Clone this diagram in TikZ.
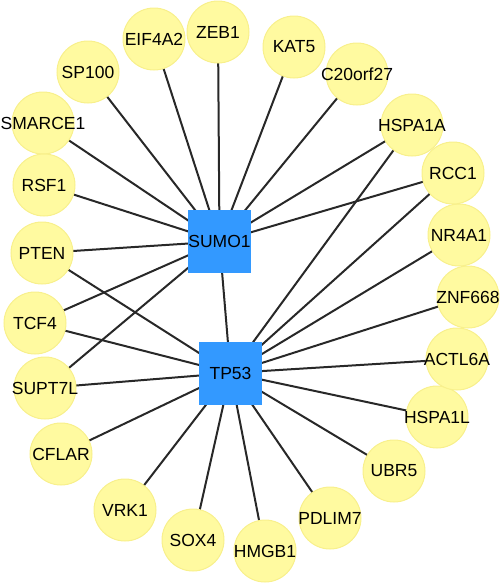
\documentclass[tikz,border=0pt]{standalone}
\usepackage{fontspec}
\setmainfont{Liberation Sans}
\usetikzlibrary{backgrounds}
\definecolor{nodeyellow}{RGB}{255,250,160}
\definecolor{edgeyellow}{RGB}{248,240,140}
\definecolor{hubblue}{RGB}{51,153,255}
\definecolor{linkgray}{RGB}{40,40,40}
\newcommand\gtxt[1]{\makebox[0pt][c]{#1}}
\begin{document}
\begin{tikzpicture}[x=1pt,y=-1pt,
  gene/.style={circle,fill=nodeyellow,draw=edgeyellow,line width=1pt,minimum size=62pt,inner sep=0pt,font=\fontsize{17.5}{17.5}\selectfont},
  hub/.style={rectangle,fill=hubblue,minimum size=63pt,inner sep=0pt,font=\fontsize{17.5}{17.5}\selectfont},
  link/.style={draw=linkgray,line width=2pt}]
\useasboundingbox (0,0) rectangle (500,584);
% hubs
\node[hub] (sumo) at (219.5,241.5) {\gtxt{SUMO1}};
\node[hub] (tp) at (230.5,373) {\gtxt{TP53}};
% genes
\node[gene] (eif) at (154,39) {\gtxt{EIF4A2}};
\node[gene] (zeb) at (218,32) {\gtxt{ZEB1}};
\node[gene] (sp) at (88,72) {\gtxt{SP100}};
\node[gene] (smarce) at (43,123) {\gtxt{SMARCE1}};
\node[gene] (rsf) at (44,185) {\gtxt{RSF1}};
\node[gene] (pten) at (42,253) {\gtxt{PTEN}};
\node[gene] (tcf) at (35,323) {\gtxt{TCF4}};
\node[gene] (supt) at (45,388) {\gtxt{SUPT7L}};
\node[gene] (cflar) at (61,454) {\gtxt{CFLAR}};
\node[gene] (vrk) at (125,510) {\gtxt{VRK1}};
\node[gene] (sox) at (193,540) {\gtxt{SOX4}};
\node[gene] (hmgb) at (265,551) {\gtxt{HMGB1}};
\node[gene] (pdlim) at (330,518) {\gtxt{PDLIM7}};
\node[gene] (ubr) at (394,471) {\gtxt{UBR5}};
\node[gene] (hspl) at (437,417) {\gtxt{HSPA1L}};
\node[gene] (actl) at (457,359) {\gtxt{ACTL6A}};
\node[gene] (znf) at (468,297) {\gtxt{ZNF668}};
\node[gene] (nr) at (459,235) {\gtxt{NR4A1}};
\node[gene] (rcc) at (453,173) {\gtxt{RCC1}};
\node[gene] (hspa) at (412,125) {\gtxt{HSPA1A}};
\node[gene] (c20) at (357,74) {\gtxt{C20orf27}};
\node[gene] (kat) at (294,47) {\gtxt{KAT5}};
% edges
\begin{pgfonlayer}{background}
\foreach \g in {eif,zeb,sp,smarce,rsf,pten,tcf,supt,kat,c20,hspa,rcc,tp}
  \draw[link] (sumo.center) -- (\g.center);
\foreach \g in {pten,tcf,supt,cflar,vrk,sox,hmgb,pdlim,ubr,hspl,actl,znf,nr,rcc,hspa}
  \draw[link] (tp.center) -- (\g.center);
\end{pgfonlayer}
\end{tikzpicture}
\end{document}
